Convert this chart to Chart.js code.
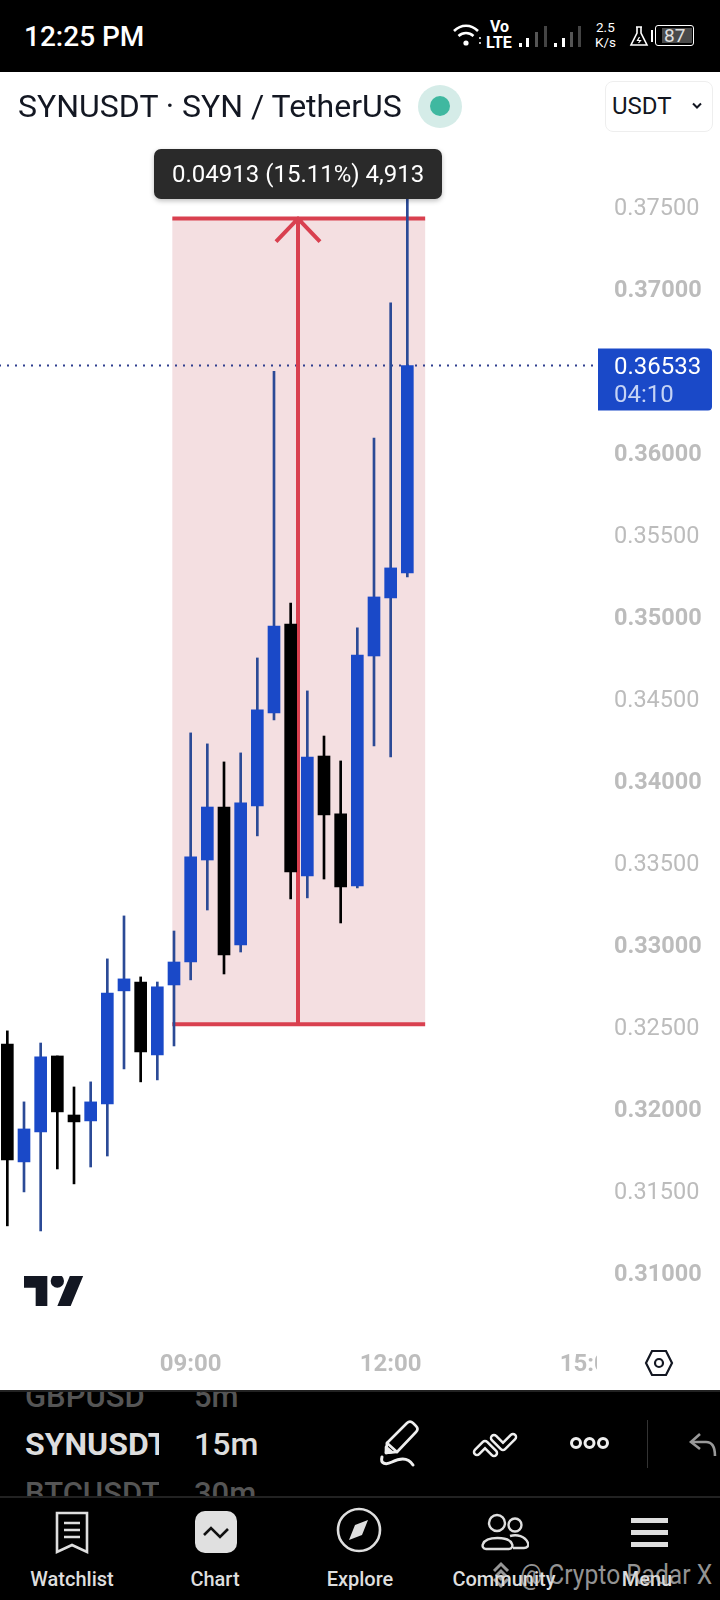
<!DOCTYPE html>
<html>
<head>
<meta charset="utf-8">
<title>SYNUSDT</title>
<script src="https://cdn.jsdelivr.net/npm/chart.js@4"></script>
<style>
    html, body { margin: 0; padding: 0; background: #fff; }
    body { position: relative; width: 720px; height: 1600px; overflow: hidden; font-family: Roboto, sans-serif; }
    div, svg, canvas { position: absolute; }
    .t { white-space: nowrap; line-height: 1; }
    .nav { color: #dedede; font-size: 20px; font-weight: 500; top: 1569px; width: 120px; text-align: center; }
</style>
</head>
<body>
<canvas id="chart" width="721" height="1318" style="left:-1px;top:72px"></canvas>

<!-- status bar -->
<div style="left:0;top:0;width:720px;height:72px;background:#000"></div>
<div class="t" style="left:24px;top:23px;color:#fff;font-size:28px;font-weight:500">12:25 PM</div>
<svg style="left:452px;top:23px" width="30" height="26" viewBox="0 0 30 26" fill="none" stroke="#fff" stroke-width="2.6">
    <path d="M2 8 C9 1 19 1 26 8"/><path d="M6.5 13 C11 9 17 9 21.5 13"/><circle cx="14" cy="20" r="2.6" fill="#fff" stroke="none"/>
    <circle cx="28" cy="15" r="1" fill="#fff" stroke="none"/><circle cx="28" cy="20" r="1" fill="#fff" stroke="none"/>
</svg>
<div class="t" style="left:490px;top:19px;color:#fff;font-size:16px;font-weight:700">Vo</div>
<div class="t" style="left:486px;top:35px;color:#fff;font-size:16px;font-weight:700">LTE</div>
<svg style="left:518px;top:24px" width="66" height="26" viewBox="0 0 66 26" fill="#fff">
    <rect x="1" y="19" width="3" height="4"/><rect x="8" y="14" width="3" height="9"/><rect x="17" y="8" width="3" height="15" fill="#555"/><rect x="26" y="2" width="3" height="21" fill="#444"/>
    <rect x="36" y="19" width="3" height="4"/><rect x="44" y="14" width="3" height="9"/><rect x="52" y="8" width="3" height="15" fill="#555"/><rect x="60" y="2" width="3" height="21" fill="#444"/>
</svg>
<div class="t" style="left:596px;top:21px;color:#fff;font-size:13.5px">2.5</div>
<div class="t" style="left:595px;top:36px;color:#fff;font-size:13.5px">K/s</div>
<svg style="left:629px;top:25px" width="20" height="22" viewBox="0 0 20 22" fill="none" stroke="#fff" stroke-width="1.6">
    <path d="M7 2 H13 M8 2 V8 L2 20 H18 L12 8 V2"/><path d="M10.5 12 L8.5 15.5 H11.5 L9.5 18" stroke-width="1.2"/>
</svg>
<div style="left:651px;top:30px;width:2px;height:12px;background:#fff"></div>
<div style="left:655px;top:25px;width:37px;height:19px;border:1.5px solid #fff;border-radius:3px"></div>
<div style="left:662px;top:28px;width:30px;height:15px;background:#4a4a4a"></div>
<div class="t" style="left:664px;top:26px;color:#e0e0e0;font-size:19px">87</div>

<!-- symbol header -->
<div class="t" style="left:18px;top:90px;color:#131722;font-size:32px">SYNUSDT · SYN / TetherUS</div>
<div style="left:418px;top:85px;width:44px;height:43px;border-radius:50%;background:#d5ece8"></div>
<div style="left:430px;top:96px;width:20px;height:20px;border-radius:50%;background:#3fb8a0"></div>
<div style="left:605px;top:81px;width:106px;height:49px;border:1.5px solid #eee;border-radius:8px;background:#fff"></div>
<div class="t" style="left:612px;top:94px;color:#131722;font-size:24px">USDT</div>
<svg style="left:691px;top:102px" width="12" height="8" viewBox="0 0 12 8" fill="none" stroke="#131722" stroke-width="2"><path d="M2 1.5 L6 5.5 L10 1.5"/></svg>

<!-- measure label -->
<div style="left:154px;top:149px;width:288px;height:50px;background:#2a2a2a;border-radius:7px;box-shadow:0 2px 5px rgba(0,0,0,.25)"></div>
<div class="t" style="left:172px;top:162px;color:#fff;font-size:24px">0.04913 (15.11%) 4,913</div>

<!-- tradingview logo -->
<svg style="left:24px;top:1276px" width="60" height="30" viewBox="0 4 36 18" fill="#131722">
    <path d="M14 22H7V11H0V4h14v18zM28 22h-8l7.5-18h8L28 22z"/><circle cx="20" cy="7" r="4"/>
</svg>

<!-- time axis end -->
<div style="left:597px;top:1340px;width:123px;height:48px;background:#fff"></div>
<svg style="left:644px;top:1349px" width="30" height="28" viewBox="0 0 30 28" fill="none" stroke="#131722" stroke-width="2.2">
    <path d="M8 2 H22 L28 14 L22 26 H8 L2 14 Z"/><circle cx="15" cy="14" r="4"/>
</svg>

<!-- lower panel -->
<div style="left:0;top:1390px;width:720px;height:210px;background:#000;border-top:2px solid #222;box-sizing:border-box"></div>
<div style="left:0;top:1392px;width:720px;height:104px;overflow:hidden">
    <div class="t" style="left:25px;top:-11px;color:#555;font-size:31px;font-weight:500">GBPUSD</div>
    <div class="t" style="left:194px;top:-11px;color:#555;font-size:31px;font-weight:500">5m</div>
    <div class="t" style="left:25px;top:36px;width:134px;overflow:hidden;color:#ddd;font-size:32px;font-weight:700">SYNUSDT</div>
    <div class="t" style="left:194px;top:36px;color:#ddd;font-size:32px;font-weight:500">15m</div>
    <div class="t" style="left:25px;top:86px;width:134px;overflow:hidden;color:#555;font-size:31px;font-weight:500">BTCUSDT</div>
    <div class="t" style="left:194px;top:86px;color:#555;font-size:31px;font-weight:500">30m</div>
</div>
<svg style="left:378px;top:1420px" width="46" height="50" viewBox="0 0 46 50" fill="none" stroke="#eee" stroke-width="2.6" stroke-linecap="round" stroke-linejoin="round">
    <path d="M9 23 L29 3 C31 1 33 1 35 3 L38 6 C40 8 40 10 38 12 L19 32 L8 33 Z"/><path d="M9 23 L19 32"/><path d="M8 33 L8 27 L14 32 Z" fill="#eee"/>
    <path d="M4 37 C2 44 8 45 14 42 C22 38 30 37 35 45" stroke-width="3"/>
</svg>
<svg style="left:470px;top:1428px" width="50" height="34" viewBox="0 0 50 34" fill="none" stroke-linecap="round" stroke-linejoin="round">
    <path d="M24 10 L33 19 L43 9" stroke="#eee" stroke-width="8.5"/><path d="M24 10 L33 19 L43 9" stroke="#000" stroke-width="3.5"/>
    <path d="M7 24 L15 16 L24 25" stroke="#eee" stroke-width="8.5"/><path d="M7 24 L15 16 L24 25" stroke="#000" stroke-width="3.5"/>
</svg>
<svg style="left:569px;top:1435px" width="44" height="16" viewBox="0 0 44 16" fill="none" stroke="#eee" stroke-width="3">
    <circle cx="7" cy="8" r="4.5"/><circle cx="20.5" cy="8" r="4.5"/><circle cx="34" cy="8" r="4.5"/>
</svg>
<div style="left:647px;top:1420px;width:1px;height:48px;background:#333"></div>
<svg style="left:688px;top:1432px" width="30" height="28" viewBox="0 0 30 28" fill="none" stroke="#999" stroke-width="2.6">
    <path d="M12 2 L3 10 L12 17"/><path d="M3 10 H18 C24 10 27 15 27 24"/>
</svg>
<div style="left:0;top:1496px;width:720px;height:2px;background:#222"></div>

<!-- nav bar -->
<svg style="left:55px;top:1511px" width="34" height="44" viewBox="0 0 34 44" fill="none" stroke="#dedede" stroke-width="2.6">
    <path d="M2 2 H32 V41 L17 34 L2 41 Z"/><path d="M9 12 H25 M9 19 H25 M9 26 H25"/>
</svg>
<svg style="left:194px;top:1510px" width="44" height="44" viewBox="0 0 44 44">
    <rect x="1" y="1" width="42" height="42" rx="10" fill="#e0e0e0"/><path d="M10 25 L17 18 L26 27 L34 19" fill="none" stroke="#111" stroke-width="2.6"/>
</svg>
<svg style="left:336px;top:1507px" width="46" height="46" viewBox="0 0 46 46" fill="none" stroke="#dedede" stroke-width="2.6">
    <circle cx="23" cy="23" r="21"/><path d="M32 13 L26 28 L13 33 L19 18 Z" fill="#dedede" stroke="none"/>
</svg>
<svg style="left:481px;top:1512px" width="48" height="40" viewBox="0 0 48 40" fill="none" stroke="#dedede" stroke-width="2.4">
    <circle cx="16" cy="11" r="8"/><circle cx="34" cy="13" r="6.5"/>
    <path d="M5 37 H28 C31 37 32 34 31 32 C28 24 5 24 2 32 C1 34 2 37 5 37 Z"/><path d="M29 24 C36 22 44 24 47 31 C48 34 46 36 43 36 H32"/>
</svg>
<div style="left:631px;top:1518px;width:37px;height:4.5px;background:#dedede"></div>
<div style="left:631px;top:1530px;width:37px;height:4.5px;background:#dedede"></div>
<div style="left:631px;top:1542px;width:37px;height:4.5px;background:#dedede"></div>
<div class="t nav" style="left:12px">Watchlist</div>
<div class="t nav" style="left:155px">Chart</div>
<div class="t nav" style="left:300px">Explore</div>
<div class="t nav" style="left:444px">Community</div>
<div class="t nav" style="left:587px">Menu</div>

<!-- watermark -->
<svg style="left:488px;top:1561px" width="26" height="28" viewBox="0 0 26 28" fill="none" stroke="rgba(215,215,215,.7)" stroke-width="3">
    <path d="M6 10 L13 3 L20 10 M6 18 L13 25 L20 18 M9 14 L13 10 L17 14 L13 18 Z"/>
</svg>
<div class="t" style="left:520px;top:1561px;color:rgba(205,205,205,.72);font-size:28px;transform:scaleX(.88);transform-origin:left">@ Crypto Radar X</div>

<script>
    // 15m candles
    const categories = ["06:15", "06:30", "06:45", "07:00", "07:15", "07:30", "07:45", "08:00", "08:15", "08:30", "08:45", "09:00",
        "09:15", "09:30", "09:45", "10:00", "10:15", "10:30", "10:45", "11:00", "11:15", "11:30", "11:45", "12:00",
        "12:15", "12:30", "12:45", "13:00", "13:15", "13:30", "13:45", "14:00", "14:15", "14:30", "14:45", "15:00"];
    const opens = [0.32396, 0.31677, 0.3186, 0.32323, 0.31963, 0.31927, 0.3203, 0.3272, 0.32774, 0.32329, 0.32756, 0.32896,
        0.33518, 0.33841, 0.33, 0.33848, 0.34415, 0.34957, 0.33421, 0.34152, 0.33799, 0.3336, 0.34762, 0.35116, 0.35268];
    const highs = [0.32476, 0.32043, 0.32402, 0.32323, 0.32134, 0.32165, 0.32915, 0.33177, 0.32805, 0.32774, 0.33085, 0.34293,
        0.34226, 0.34116, 0.34171, 0.3475, 0.36497, 0.35085, 0.34549, 0.34274, 0.34122, 0.34933, 0.36091, 0.36915, 0.376];
    const lows = [0.31287, 0.31494, 0.31256, 0.31634, 0.31543, 0.31646, 0.31713, 0.32244, 0.32165, 0.32177, 0.32384, 0.32787,
        0.33213, 0.32823, 0.32957, 0.33665, 0.34372, 0.3328, 0.33287, 0.33402, 0.33134, 0.33348, 0.34213, 0.34146, 0.35244];
    const closes = [0.31689, 0.31878, 0.32317, 0.31982, 0.31921, 0.32043, 0.32707, 0.32793, 0.32348, 0.32744, 0.32896, 0.33537,
        0.33841, 0.32939, 0.33866, 0.34433, 0.34945, 0.33445, 0.34146, 0.33793, 0.33354, 0.34768, 0.35122, 0.35299, 0.36533];

    const priceTicks = [0.375, 0.37, 0.36, 0.355, 0.35, 0.345, 0.34, 0.335, 0.33, 0.325, 0.32, 0.315, 0.31];
    const timeTicks = ["09:00", "12:00", "15:00"];

    const priceMin = 0.30652;
    const priceMax = 0.38323;

    const lastPrice = 0.36533;
    const countdown = "04:10";

    // measure tool: slot positions on the candle axis, prices on the price axis
    const measureSlots = [9.9, 25.07];
    const measureArrowSlot = 17.44;
    const measurePrices = [0.32516, 0.37429];

    const BLUE = "#1a49c8";
    const WICK_BLUE = "#2b4a96";
    const RED = "#d9404f";

    let isUp = opens.map((o, i) => closes[i] >= o);

    const measurePlugin = {
        id: "measure",
        beforeDatasetsDraw(chart) {
            let ctx = chart.ctx, x = chart.scales.x, y = chart.scales.y;
            let x0 = x.getPixelForValue(measureSlots[0]), x1 = x.getPixelForValue(measureSlots[1]);
            let xa = x.getPixelForValue(measureArrowSlot);
            let yb = y.getPixelForValue(measurePrices[0]), yt = y.getPixelForValue(measurePrices[1]);
            let yl = y.getPixelForValue(lastPrice);

            ctx.save();
            ctx.fillStyle = "#f4dfe1";
            ctx.fillRect(x0, yt, x1 - x0, yb - yt);

            // last price line
            ctx.strokeStyle = "#2f3f8f";
            ctx.lineWidth = 2;
            ctx.setLineDash([2, 6]);
            ctx.beginPath();
            ctx.moveTo(chart.chartArea.left, yl);
            ctx.lineTo(chart.chartArea.right, yl);
            ctx.stroke();
            ctx.setLineDash([]);

            ctx.strokeStyle = RED;
            ctx.lineWidth = 4;
            ctx.beginPath();
            ctx.moveTo(x0, yt);
            ctx.lineTo(x1, yt);
            ctx.moveTo(x0, yb);
            ctx.lineTo(x1, yb);
            ctx.moveTo(xa, yt);
            ctx.lineTo(xa, yb);
            ctx.moveTo(xa - 22, yt + 23);
            ctx.lineTo(xa, yt);
            ctx.lineTo(xa + 22, yt + 23);
            ctx.stroke();
            ctx.restore();
        },
        afterDraw(chart) {
            let ctx = chart.ctx, y = chart.scales.y;
            let yl = y.getPixelForValue(lastPrice);
            let left = chart.chartArea.right - 1;
            ctx.save();
            ctx.fillStyle = BLUE;
            ctx.beginPath();
            ctx.roundRect(left, yl - 17, 114, 62, [0, 4, 4, 0]);
            ctx.fill();
            ctx.textBaseline = "middle";
            ctx.font = "24px Roboto";
            ctx.fillStyle = "#fff";
            ctx.fillText(lastPrice.toFixed(5), left + 16, yl + 2);
            ctx.fillStyle = "#c5d3f5";
            ctx.fillText(countdown, left + 16, yl + 30);
            ctx.restore();
        }
    };

    new Chart(document.querySelector("#chart").getContext("2d"), {
        type: "bar",
        data: {
            labels: categories,
            datasets: [{
                label: "wick",
                data: highs.map((h, i) => [lows[i], h]),
                backgroundColor: isUp.map(u => u ? WICK_BLUE : "#000"),
                barThickness: 2,
                grouped: false,
                order: 2
            }, {
                label: "body",
                data: opens.map((o, i) => [Math.min(o, closes[i]), Math.max(o, closes[i])]),
                backgroundColor: isUp.map(u => u ? BLUE : "#000"),
                barThickness: 12,
                grouped: false,
                order: 1
            }]
        },
        options: {
            responsive: false,
            animation: false,
            events: [],
            layout: { padding: 0 },
            plugins: {
                legend: { display: false },
                tooltip: { enabled: false }
            },
            scales: {
                x: {
                    grid: { display: false, drawTicks: false },
                    border: { display: false },
                    ticks: {
                        autoSkip: false,
                        maxRotation: 0,
                        minRotation: 0,
                        padding: 21,
                        color: "#bdbdbd",
                        font: { family: "Roboto", size: 24, weight: "bold" },
                        callback: function(value) {
                            let label = this.getLabelForValue(value);
                            return timeTicks.includes(label) ? label : "";
                        }
                    },
                    afterFit: function(scale) {
                        scale.height = 60;
                        scale.paddingLeft = 0;
                        scale.paddingRight = 0;
                    }
                },
                y: {
                    position: "right",
                    min: priceMin,
                    max: priceMax,
                    grid: { display: false, drawTicks: false },
                    border: { display: false },
                    afterBuildTicks: function(scale) {
                        scale.ticks = priceTicks.map(v => ({ value: v }));
                    },
                    ticks: {
                        autoSkip: false,
                        padding: 15,
                        labelOffset: 2.5,
                        crossAlign: "near",
                        color: "#bcbcbc",
                        font: function(c) {
                            let bold = c.tick && Math.round(c.tick.value * 100000) % 1000 === 0;
                            return { family: "Roboto", size: 23.5, weight: bold ? "bold" : "normal" };
                        },
                        callback: function(value) {
                            return value.toFixed(5);
                        }
                    },
                    afterFit: function(scale) {
                        scale.width = 121;
                        scale.paddingTop = 0;
                        scale.paddingBottom = 0;
                    }
                }
            }
        },
        plugins: [measurePlugin]
    });
</script>
</body>
</html>
